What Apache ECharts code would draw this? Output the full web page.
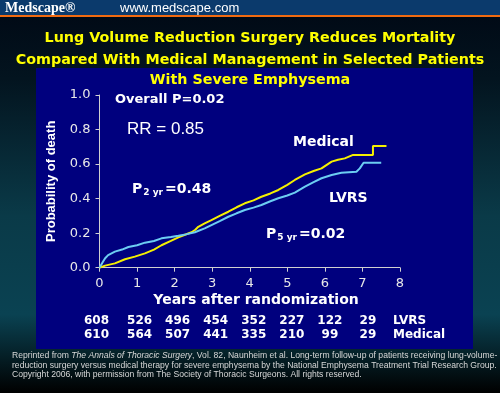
<!DOCTYPE html>
<html><head><meta charset="utf-8">
<script src="https://cdn.jsdelivr.net/npm/echarts@6/dist/echarts.min.js"></script>
<style>html,body{margin:0;padding:0;background:#000;}#c{width:500px;height:393px;}</style>
</head><body><div id="c"></div>
<script>
// ---- data ----
const titleLines = ['Lung Volume Reduction Surgery Reduces Mortality','Compared With Medical Management in Selected Patients','With Severe Emphysema'];
const xTicks = [0,1,2,3,4,5,6,7,8];
const yTicks = [0,0.2,0.4,0.6,0.8,1.0];
const medical = [[0,0],[0.15,0.012],[0.41,0.025],[0.68,0.049],[0.94,0.064],[1.21,0.083],[1.45,0.105],[1.65,0.13],[1.9,0.155],[2.1,0.176],[2.45,0.205],[2.55,0.22],[2.63,0.237],[2.8,0.257],[2.98,0.276],[3.2,0.30],[3.43,0.324],[3.65,0.35],[3.87,0.373],[4.1,0.39],[4.31,0.411],[4.55,0.43],[4.76,0.45],[5.0,0.48],[5.2,0.508],[5.47,0.54],[5.7,0.56],[5.91,0.575],[6.18,0.614],[6.35,0.625],[6.53,0.633],[6.75,0.653],[7.28,0.653],[7.28,0.705],[7.64,0.705]];
const lvrs = [[0,0],[0.08,0.03],[0.15,0.055],[0.23,0.073],[0.41,0.093],[0.6,0.105],[0.77,0.12],[1.0,0.13],[1.21,0.145],[1.45,0.155],[1.65,0.17],[1.9,0.178],[2.1,0.185],[2.3,0.193],[2.54,0.205],[2.8,0.228],[2.98,0.247],[3.2,0.27],[3.43,0.295],[3.65,0.315],[3.87,0.334],[4.1,0.348],[4.31,0.363],[4.55,0.385],[4.76,0.402],[5.0,0.418],[5.2,0.435],[5.47,0.469],[5.7,0.495],[5.91,0.518],[6.18,0.537],[6.44,0.55],[6.84,0.556],[6.93,0.575],[7.03,0.608],[7.5,0.608]];
const riskYears = [0,1,2,3,4,5,6,7];
const riskLvrs = [608,526,496,454,352,227,122,29];
const riskMedical = [610,564,507,441,335,210,99,29];
const footLines = [
  [{t:'Reprinted from ',s:'n'},{t:'The Annals of Thoracic Surgery',s:'i'},{t:', Vol. 82, Naunheim et al. Long-term follow-up of patients receiving lung-volume-',s:'n'}],
  [{t:'reduction surgery versus medical therapy for severe emphysema by the National Emphysema Treatment Trial Research Group.',s:'n'}],
  [{t:'Copyright 2006, with permission from The Society of Thoracic Surgeons. All rights reserved.',s:'n'}]
];

const chart = echarts.init(document.getElementById('c'), null, {renderer:'canvas'});
const FONT = 'DejaVu Sans';
const AX = '#d0d0d0';
const option = {
  backgroundColor: {type:'linear',x:0,y:0,x2:0,y2:1,colorStops:[
    {offset:0,color:'#000814'},{offset:0.2,color:'#03141f'},{offset:0.55,color:'#0a3a48'},{offset:0.8,color:'#0a4252'},{offset:1,color:'#000000'}]},
  animation:false,
  grid:{left:99.5,right:100,top:95,bottom:125.3,containLabel:false},
  xAxis:{type:'value',min:0,max:8,interval:1,
    axisLine:{lineStyle:{color:AX,width:1}},
    axisTick:{show:true,length:4,lineStyle:{color:AX}},
    splitLine:{show:false},
    axisLabel:{color:'#e8e8e8',fontSize:13,fontFamily:FONT,margin:9}},
  yAxis:{type:'value',min:0,max:1,interval:0.2,
    name:'Probability of death',nameLocation:'middle',nameGap:42,nameRotate:90,
    nameTextStyle:{color:'#ffffff',fontSize:13,fontWeight:'bold',fontFamily:'Liberation Sans'},
    axisLine:{show:true,lineStyle:{color:AX,width:1}},
    axisTick:{show:true,length:4,lineStyle:{color:AX}},
    splitLine:{show:false},
    axisLabel:{color:'#e8e8e8',fontSize:13,fontFamily:FONT,margin:9,formatter:v=>v.toFixed(1)}},
  series:[
    {name:'Medical',type:'line',data:medical,showSymbol:false,symbol:'none',lineStyle:{color:'#f5f000',width:2},z:3},
    {name:'LVRS',type:'line',data:lvrs,showSymbol:false,symbol:'none',lineStyle:{color:'#6ccdf2',width:2},z:4}
  ]
};
chart.setOption(option);

const g = [];
// header
g.push({type:'rect',shape:{x:0,y:0,width:500,height:15},style:{fill:'#0b3a6c'},z:-5});
g.push({type:'rect',shape:{x:0,y:15,width:500,height:2},style:{fill:'#f26a10'},z:-5});
g.push({type:'text',x:5,y:8,style:{text:'Medscape\u00ae',fill:'#ffffff',font:'bold 14px "Liberation Serif"',textVerticalAlign:'middle'}});
g.push({type:'text',x:120,y:8,style:{text:'www.medscape.com',fill:'#ffffff',font:'13px "Liberation Sans"',textVerticalAlign:'middle'}});
// panel
g.push({type:'rect',shape:{x:36,y:68,width:437,height:281},style:{fill:'#00007e'},z:-4});
// title
const ty=[38,60,80];
titleLines.forEach((t,i)=>g.push({type:'text',x:250,y:ty[i],style:{text:t,fill:'#ffff00',font:'bold 14.3px "DejaVu Sans"',textAlign:'center',textVerticalAlign:'middle'},z:5}));
// annotations
const W='#ffffff';
const sub = {a:{fill:W,fontSize:14,fontWeight:'bold',fontFamily:FONT},s:{fill:W,fontSize:9,fontWeight:'bold',fontFamily:FONT,padding:[8,2,0,1]}};
g.push({type:'text',x:115,y:100,style:{text:'Overall P=0.02',fill:W,font:'bold 13px "DejaVu Sans"',textVerticalAlign:'middle'}});
g.push({type:'text',x:127,y:129,style:{text:'RR = 0.85',fill:W,font:'17px "Liberation Sans"',textVerticalAlign:'middle'}});
g.push({type:'text',x:132,y:189,style:{rich:sub,text:'{a|P}{s|2 yr}{a|=0.48}',textVerticalAlign:'middle'}});
g.push({type:'text',x:266,y:234,style:{rich:sub,text:'{a|P}{s|5 yr}{a|=0.02}',textVerticalAlign:'middle'}});
g.push({type:'text',x:293,y:142,style:{text:'Medical',fill:W,font:'bold 14px "DejaVu Sans"',textVerticalAlign:'middle'}});
g.push({type:'text',x:329,y:198,style:{text:'LVRS',fill:W,font:'bold 14px "DejaVu Sans"',textVerticalAlign:'middle'}});
// x axis name
g.push({type:'text',x:256,y:300,style:{text:'Years after randomization',fill:W,font:'bold 14px "DejaVu Sans"',textAlign:'center',textVerticalAlign:'middle'}});
// risk table
riskYears.forEach((yr,i)=>{
  const px = chart.convertToPixel({xAxisIndex:0}, yr) + (i===0?-3:2+0.5*i);
  g.push({type:'text',x:px,y:321,style:{text:String(riskLvrs[i]),fill:W,font:'bold 12px "DejaVu Sans"',textAlign:'center',textVerticalAlign:'middle'}});
  g.push({type:'text',x:px,y:335,style:{text:String(riskMedical[i]),fill:W,font:'bold 12px "DejaVu Sans"',textAlign:'center',textVerticalAlign:'middle'}});
});
g.push({type:'text',x:393,y:321,style:{text:'LVRS',fill:W,font:'bold 12px "DejaVu Sans"',textVerticalAlign:'middle'}});
g.push({type:'text',x:393,y:335,style:{text:'Medical',fill:W,font:'bold 12px "DejaVu Sans"',textVerticalAlign:'middle'}});
// footnote
const fy=[356,366,375];
footLines.forEach((ln,i)=>{
  const rich={n:{fill:'#d8d8d8',fontSize:8.6,fontFamily:'Liberation Sans'},i:{fill:'#d8d8d8',fontSize:8.6,fontStyle:'italic',fontFamily:'Liberation Sans'}};
  const text=ln.map(p=>'{'+p.s+'|'+p.t+'}').join('');
  g.push({type:'text',x:12,y:fy[i],style:{rich:rich,text:text,textVerticalAlign:'middle'}});
});
chart.setOption({graphic:{elements:g}});
</script></body></html>
